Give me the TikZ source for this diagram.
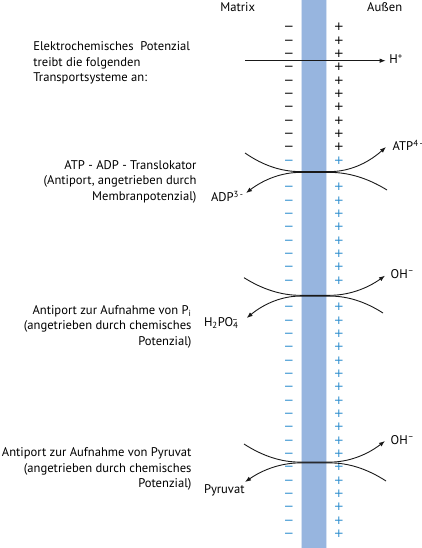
\documentclass[tikz,border=0pt]{standalone}
\usepackage{fontspec}
\setmainfont{PT Sans}
\newfontfamily\sgnfont{DejaVu Sans}
\usetikzlibrary{arrows.meta}
\definecolor{band}{HTML}{97B5DF}
\definecolor{sblue}{HTML}{2A8CCD}
\begin{document}
\begin{tikzpicture}[x=1pt,y=-1pt,
  font=\fontsize{12.6}{15.2}\selectfont,
  lbl/.style={inner sep=0pt,outer sep=0pt},
  sg/.style={inner sep=0pt,anchor=base,font=\sgnfont\fontsize{12}{12}\selectfont},
  crv/.style={line width=0.9pt,black!90},
  arr/.style={crv,-{Latex[length=6pt,width=4.5pt]}}]
\useasboundingbox (0,0) rectangle (422,548);
% membrane
\fill[band] (300.5,0) rectangle (326.5,548);
\draw[white!60!band,line width=0.6pt] (300.8,0) -- (300.8,548) (326.2,0) -- (326.2,548);
% charges
\foreach \k in {0,...,9}{
  \node[sg] (m\k) at (289,{31+13.33*\k}) {−};
  \node[sg] (p\k) at (339,{31+13.33*\k}) {+};
}
\foreach \k in {10,12,13,14,15,16,17,18,19,21,22,23,24,25,26,27,28,29,30,31,32,33,34,35,36,37,38}{
  \node[sg,text=sblue] (m\k) at (289,{31+13.33*\k}) {−};
  \node[sg,text=sblue] (p\k) at (339,{31+13.33*\k}) {+};
}
% headings
\node[lbl,anchor=base] (matrix) at (237.7,11.7) {Matrix};
\node[lbl,anchor=base] (aussen) at (384.7,11.7) {Außen};
% texts left (base anchor = last line)
\node[lbl,anchor=base west,align=left] (t1) at (33.3,81.3) {Elektrochemisches\ \ Potenzial\\treibt die folgenden\\Transportsysteme an:};
\node[lbl,anchor=base east,align=right] (t2) at (196.5,200) {ATP - ADP - Translokator\\(Antiport, angetrieben durch\\Membranpotenzial)};
\node[lbl,anchor=base east,align=right] (t3) at (191.5,345) {Antiport zur Aufnahme von P\textsubscript{i}\\(angetrieben durch chemisches\\Potenzial)};
\node[lbl,anchor=base east,align=right] (t4) at (191.5,487.3) {Antiport zur Aufnahme von Pyruvat\\(angetrieben durch chemisches\\Potenzial)};
% species labels
\node[lbl,anchor=base west] (hplus) at (389.3,64) {H\textsuperscript{+}};
\node[lbl,anchor=base west] (atp) at (392.7,150.7) {ATP\textsuperscript{4\,-}};
\node[lbl,anchor=base west] (adp) at (211,201.7) {ADP\textsuperscript{3\,-}};
\node[lbl,anchor=base west] (oh1) at (390.7,278.3) {OH\textsuperscript{–}};
\node[lbl,anchor=base west] (hpo) at (204,326.7) {H\textsubscript{2}PO\textsubscript{4}\llap{\textsuperscript{–}}};
\node[lbl,anchor=base west] (oh2) at (390.7,444) {OH\textsuperscript{–}};
\node[lbl,anchor=base west] (pyr) at (204,493.3) {Pyruvat};
% H+ arrow
\coordinate (hs) at (245,60.7);
\coordinate (ht) at (385.7,60.7);
\draw[arr] (hs) -- (ht);
% crossing 1
\coordinate (a1s) at (245,153);   \coordinate (a1t) at (386,147);
\coordinate (b1s) at (387,190);   \coordinate (b1t) at (246,193);
\draw[arr] (a1s) .. controls (263.3,165.7) and (281.7,171.6) .. (300,171.6) -- (330,171.6)
  .. controls (348.7,171.6) and (367.3,163.7) .. (a1t);
\draw[arr] (b1s) .. controls (368,178.3) and (349,172.4) .. (330,172.4) -- (300,172.4)
  .. controls (282,172.4) and (264,179.3) .. (b1t);
% crossing 2
\coordinate (a2s) at (244,277.7); \coordinate (a2t) at (385,275.7);
\coordinate (b2s) at (383,313);   \coordinate (b2t) at (246.7,318);
\draw[arr] (a2s) .. controls (262.7,289.4) and (281.3,295.3) .. (300,295.3) -- (330,295.3)
  .. controls (348.3,295.3) and (366.7,288.8) .. (a2t);
\draw[arr] (b2s) .. controls (365.3,301.7) and (347.7,296.1) .. (330,296.1) -- (300,296.1)
  .. controls (282.2,296.1) and (264.5,303.4) .. (b2t);
% crossing 3
\coordinate (a3s) at (244,444);   \coordinate (a3t) at (385,441);
\coordinate (b3s) at (386,481);   \coordinate (b3t) at (245,482);
\draw[arr] (a3s) .. controls (262.7,456.1) and (281.3,462.1) .. (300,462.1) -- (330,462.1)
  .. controls (348.3,462.1) and (366.7,455.1) .. (a3t);
\draw[arr] (b3s) .. controls (367.3,468.9) and (348.7,462.9) .. (330,462.9) -- (300,462.9)
  .. controls (281.7,462.9) and (263.3,469.3) .. (b3t);
\end{tikzpicture}
\end{document}
